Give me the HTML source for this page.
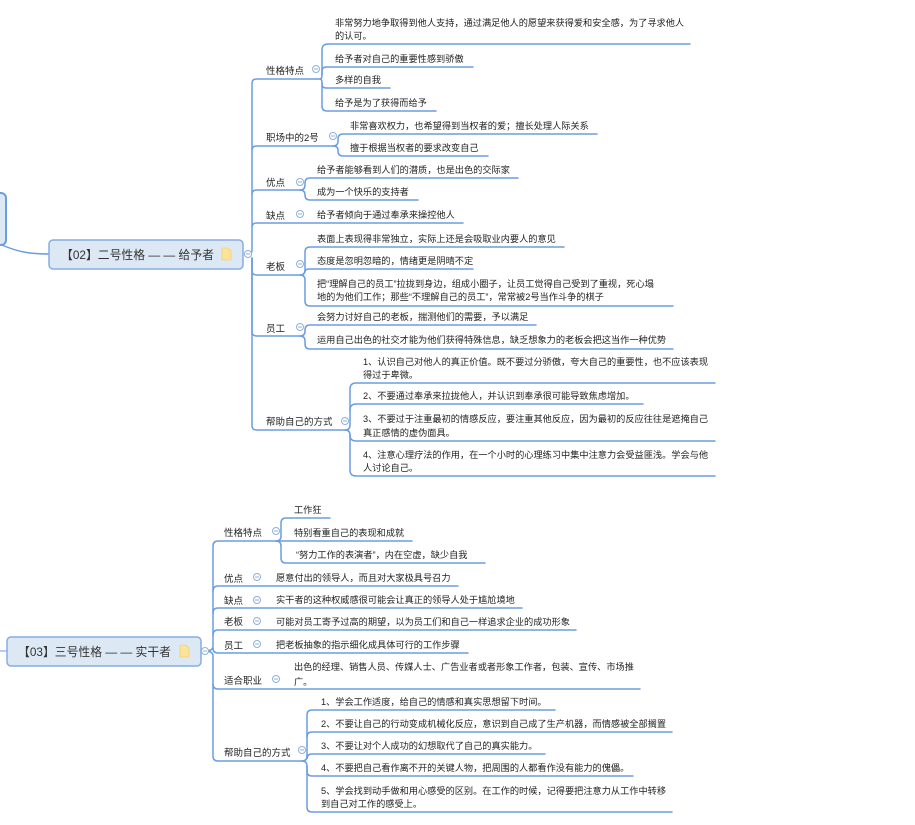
<!DOCTYPE html>
<html><head><meta charset="utf-8"><style>
html,body{margin:0;padding:0;background:#fff;width:915px;height:825px;overflow:hidden}
svg text{font-family:"Liberation Sans","Noto Sans CJK SC",sans-serif;fill:#222}
.l{font-size:9.2px}
.c{font-size:9.5px}
.r{font-size:12px;fill:#333}
</style></head><body>
<svg width="915" height="825" viewBox="0 0 915 825" xmlns="http://www.w3.org/2000/svg">
<g fill="none" stroke="#6b9de2" stroke-width="1.5" stroke-linecap="round">
<rect x="-10" y="193" width="16" height="52" rx="5" stroke-width="2" fill="#dde8f5"/>
<path d="M2 245 C 18 252, 30 254, 49 254"/>
<path d="M248 254 Q252 254 252 250 L252 83 Q252 79 257 79 L316 79"/>
<path d="M252 150 Q252 146 257 146 L333 146"/>
<path d="M252 194 Q252 190 257 190 L300 190"/>
<path d="M252 227 Q252 223 257 223 L463 223"/>
<path d="M252 258 L252 271 Q252 275 257 275 L300 275"/>
<path d="M252 258 L252 332 Q252 336 257 336 L300 336"/>
<path d="M252 258 L252 426 Q252 430 257 430 L345 430"/>
<path d="M316 79 L320 79 Q322 79 322 75 L322 50 Q322 44 328 44 L690 44"/>
<path d="M322 75 L322 71 Q322 67 326 67 L473 67"/>
<path d="M322 83 L322 84 Q322 88 326 88 L390 88"/>
<path d="M320 79 Q322 79 322 83 L322 106 Q322 111 327 111 L436 111"/>
<path d="M333 146 Q338 146 338 141 L338 139 Q338 134 343 134 L597 134"/>
<path d="M333 146 Q338 146 338 150 L338 151 Q338 156 343 156 L488 156"/>
<path d="M300 190 Q305 190 305 185 L305 183 Q305 178 310 178 L518 178"/>
<path d="M300 190 Q305 190 305 195 Q305 200 310 200 L418 200"/>
<path d="M300 275 Q305 275 305 270 L305 252 Q305 247 310 247 L564 247"/>
<path d="M305 272 Q305 269 309 269 L473 269"/>
<path d="M300 275 Q305 275 305 280 L305 301 Q305 306 310 306 L673 306"/>
<path d="M300 336 Q305 336 305 331 L305 330 Q305 325 310 325 L536 325"/>
<path d="M300 336 Q305 336 305 341 L305 344 Q305 349 310 349 L673 349"/>
<path d="M345 430 Q350 430 350 425 L350 389 Q350 383 356 383 L715 383"/>
<path d="M350 410 Q350 404 356 404 L643 404"/>
<path d="M350 435 Q350 441 356 441 L715 441"/>
<path d="M345 430 Q350 430 350 435 L350 470 Q350 476 356 476 L715 476"/>
<rect x="49" y="240" width="194" height="29" rx="4" fill="#dde8f5" stroke="#86aee0"/>

<path d="M0 651 L7 651" stroke-width="1"/>
<path d="M205 651 Q213 651 213 646 L213 546 Q213 541 218 541 L276 541"/>
<path d="M213 591 Q213 586 218 586 L458 586"/>
<path d="M213 613 Q213 608 218 608 L522 608"/>
<path d="M213 635 Q213 630 218 630 L576 630"/>
<path d="M213 648 Q213 653 218 653 L468 653"/>
<path d="M205 651 Q213 651 213 656 L213 684 Q213 689 218 689 L640 689"/>
<path d="M213 684 L213 756 Q213 761 218 761 L302 761"/>
<path d="M276 541 Q281 541 281 536 L281 523 Q281 518 286 518 L330 518"/>
<path d="M276 541 L412 541"/>
<path d="M276 541 Q281 541 281 546 L281 558 Q281 563 286 563 L485 563"/>
<path d="M302 761 Q307 761 307 756 L307 715 Q307 710 312 710 L555 710"/>
<path d="M307 737 Q307 732 312 732 L672 732"/>
<path d="M307 756 L307 759 Q307 754 312 754 L545 754"/>
<path d="M307 766 L307 771 Q307 776 312 776 L633 776"/>
<path d="M302 761 Q307 761 307 766 L307 807 Q307 812 312 812 L672 812"/>
<rect x="7" y="637" width="194" height="29" rx="4" fill="#dde8f5" stroke="#86aee0"/>
</g>

<g fill="#fff" stroke="#8fb0dc" stroke-width="1">
<circle cx="248" cy="254" r="3.5"/><circle cx="316" cy="69" r="3.5"/><circle cx="333" cy="136" r="3.5"/>
<circle cx="300" cy="182" r="3.5"/><circle cx="300" cy="214" r="3.5"/><circle cx="300" cy="264" r="3.5"/>
<circle cx="300" cy="327" r="3.5"/><circle cx="345" cy="421" r="3.5"/>
<circle cx="205" cy="651" r="3.5"/><circle cx="276" cy="531" r="3.5"/><circle cx="257" cy="577" r="3.5"/>
<circle cx="257" cy="600" r="3.5"/><circle cx="257" cy="621" r="3.5"/><circle cx="257" cy="644" r="3.5"/>
<circle cx="276" cy="679" r="3.5"/><circle cx="302" cy="750" r="3.5"/>
</g>
<g stroke="#8fb0dc" stroke-width="1">
<path d="M246 254h4M314 69h4M331 136h4M298 182h4M298 214h4M298 264h4M298 327h4M343 421h4M203 651h4M274 531h4M255 577h4M255 600h4M255 621h4M255 644h4M274 679h4M300 750h4"/>
</g>
<g fill="#fbe39a" stroke="#f0c860" stroke-width="0.6">
<path d="M222 248h6l3 3v9h-9z"/><path d="M180 645h6l3 3v9h-9z"/>
</g>

<text class="r" x="61" y="259" textLength="153" lengthAdjust="spacingAndGlyphs">【02】二号性格 — — 给予者</text>
<text class="r" x="18" y="656" textLength="153" lengthAdjust="spacingAndGlyphs">【03】三号性格 — — 实干者</text>

<text class="c" x="266" y="74">性格特点</text>
<text class="c" x="266" y="141">职场中的2号</text>
<text class="c" x="266" y="186">优点</text>
<text class="c" x="266" y="219">缺点</text>
<text class="c" x="266" y="270">老板</text>
<text class="c" x="266" y="332">员工</text>
<text class="c" x="266" y="425">帮助自己的方式</text>

<text class="l" x="335" y="26">非常努力地争取得到他人支持，通过满足他人的愿望来获得爱和安全感，为了寻求他人</text>
<text class="l" x="335" y="39">的认可。</text>
<text class="l" x="335" y="62">给予者对自己的重要性感到骄傲</text>
<text class="l" x="335" y="83">多样的自我</text>
<text class="l" x="335" y="106">给予是为了获得而给予</text>
<text class="l" x="350" y="129">非常喜欢权力，也希望得到当权者的爱；擅长处理人际关系</text>
<text class="l" x="350" y="151">擅于根据当权者的要求改变自己</text>
<text class="l" x="317" y="173">给予者能够看到人们的潜质，也是出色的交际家</text>
<text class="l" x="317" y="195">成为一个快乐的支持者</text>
<text class="l" x="317" y="218">给予者倾向于通过奉承来操控他人</text>
<text class="l" x="317" y="242">表面上表现得非常独立，实际上还是会吸取业内要人的意见</text>
<text class="l" x="317" y="264">态度是忽明忽暗的，情绪更是阴晴不定</text>
<text class="l" x="317" y="287">把“理解自己的员工”拉拢到身边，组成小圈子，让员工觉得自己受到了重视，死心塌</text>
<text class="l" x="317" y="300">地的为他们工作；那些“不理解自己的员工”，常常被2号当作斗争的棋子</text>
<text class="l" x="317" y="320">会努力讨好自己的老板，揣测他们的需要，予以满足</text>
<text class="l" x="317" y="343">运用自己出色的社交才能为他们获得特殊信息，缺乏想象力的老板会把这当作一种优势</text>
<text class="l" x="363" y="365">1、认识自己对他人的真正价值。既不要过分骄傲，夸大自己的重要性，也不应该表现</text>
<text class="l" x="363" y="378">得过于卑微。</text>
<text class="l" x="363" y="399">2、不要通过奉承来拉拢他人，并认识到奉承很可能导致焦虑增加。</text>
<text class="l" x="363" y="422">3、不要过于注重最初的情感反应，要注重其他反应，因为最初的反应往往是遮掩自己</text>
<text class="l" x="363" y="436">真正感情的虚伪面具。</text>
<text class="l" x="363" y="458">4、注意心理疗法的作用，在一个小时的心理练习中集中注意力会受益匪浅。学会与他</text>
<text class="l" x="363" y="471">人讨论自己。</text>

<text class="c" x="224" y="536">性格特点</text>
<text class="c" x="224" y="582">优点</text>
<text class="c" x="224" y="604">缺点</text>
<text class="c" x="224" y="625">老板</text>
<text class="c" x="224" y="649">员工</text>
<text class="c" x="224" y="684">适合职业</text>
<text class="c" x="224" y="756">帮助自己的方式</text>

<text class="l" x="294" y="513">工作狂</text>
<text class="l" x="294" y="536">特别看重自己的表现和成就</text>
<text class="l" x="296" y="558">“努力工作的表演者”，内在空虚，缺少自我</text>
<text class="l" x="276" y="581">愿意付出的领导人，而且对大家极具号召力</text>
<text class="l" x="276" y="603">实干者的这种权威感很可能会让真正的领导人处于尴尬境地</text>
<text class="l" x="276" y="625">可能对员工寄予过高的期望，以为员工们和自己一样追求企业的成功形象</text>
<text class="l" x="276" y="648">把老板抽象的指示细化成具体可行的工作步骤</text>
<text class="l" x="294" y="670">出色的经理、销售人员、传媒人士、广告业者或者形象工作者，包装、宣传、市场推</text>
<text class="l" x="294" y="685">广。</text>
<text class="l" x="321" y="705">1、学会工作适度，给自己的情感和真实思想留下时间。</text>
<text class="l" x="321" y="727">2、不要让自己的行动变成机械化反应，意识到自己成了生产机器，而情感被全部搁置</text>
<text class="l" x="321" y="749">3、不要让对个人成功的幻想取代了自己的真实能力。</text>
<text class="l" x="321" y="771">4、不要把自己看作离不开的关键人物，把周围的人都看作没有能力的傀儡。</text>
<text class="l" x="321" y="794">5、学会找到动手做和用心感受的区别。在工作的时候，记得要把注意力从工作中转移</text>
<text class="l" x="321" y="807">到自己对工作的感受上。</text>
</svg>
</body></html>
